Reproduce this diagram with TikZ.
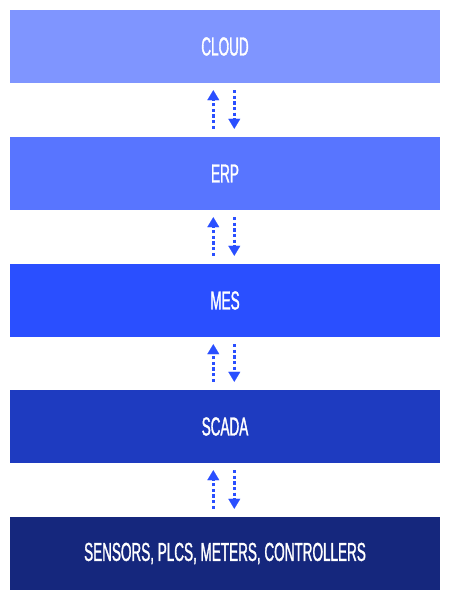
\documentclass[tikz,border=0pt]{standalone}
\usepackage{fontspec}
\setmainfont{Liberation Sans}[FakeStretch=0.52,FakeBold=1.2]
\usetikzlibrary{arrows.meta}
\definecolor{cCloud}{HTML}{7F95FF}
\definecolor{cErp}{HTML}{5875FF}
\definecolor{cMes}{HTML}{2A4FFF}
\definecolor{cScada}{HTML}{1E3BC0}
\definecolor{cSens}{HTML}{15277D}
\definecolor{cArrow}{HTML}{2A4FFF}
\tikzset{
  layer/.style={draw=none, fill=#1, minimum width=430pt, minimum height=73pt,
    inner sep=0pt, text=white, font=\fontsize{26pt}{30pt}\selectfont},
  flow/.style={draw=cArrow, line width=3.6pt, dash pattern=on 3.2pt off 2.4pt,
    -{Triangle[width=12pt,length=10pt,line width=0.1pt,fill=cArrow]}, shorten >=0pt},
}
\begin{document}
\begin{tikzpicture}[x=1pt,y=1pt]
\fill[white] (0,0) rectangle (450,-601);
\useasboundingbox (0,0) rectangle (450,-601);
\node[layer=cCloud] (cloud) at (225,-46.5) {CLOUD};
\node[layer=cErp] (erp) at (225,-173.5) {ERP};
\node[layer=cMes] (mes) at (225,-300.5) {MES};
\node[layer=cScada] (scada) at (225,-426.5) {SCADA};
\node[layer=cSens] (sens) at (225,-553.5) {SENSORS, PLCS, METERS, CONTROLLERS};
\foreach \a/\b in {cloud/erp, erp/mes, mes/scada, scada/sens}{
  \coordinate (\a-ut) at ([xshift=-11.7pt,yshift=-7pt]\a.south);
  \coordinate (\a-ub) at ([xshift=-11.7pt,yshift=8pt]\b.north);
  \coordinate (\a-dt) at ([xshift=9.3pt,yshift=-7pt]\a.south);
  \coordinate (\a-db) at ([xshift=9.3pt,yshift=8pt]\b.north);
  \draw[flow] (\a-ub) -- (\a-ut);
  \draw[flow] (\a-dt) -- (\a-db);
}
\end{tikzpicture}
\end{document}
